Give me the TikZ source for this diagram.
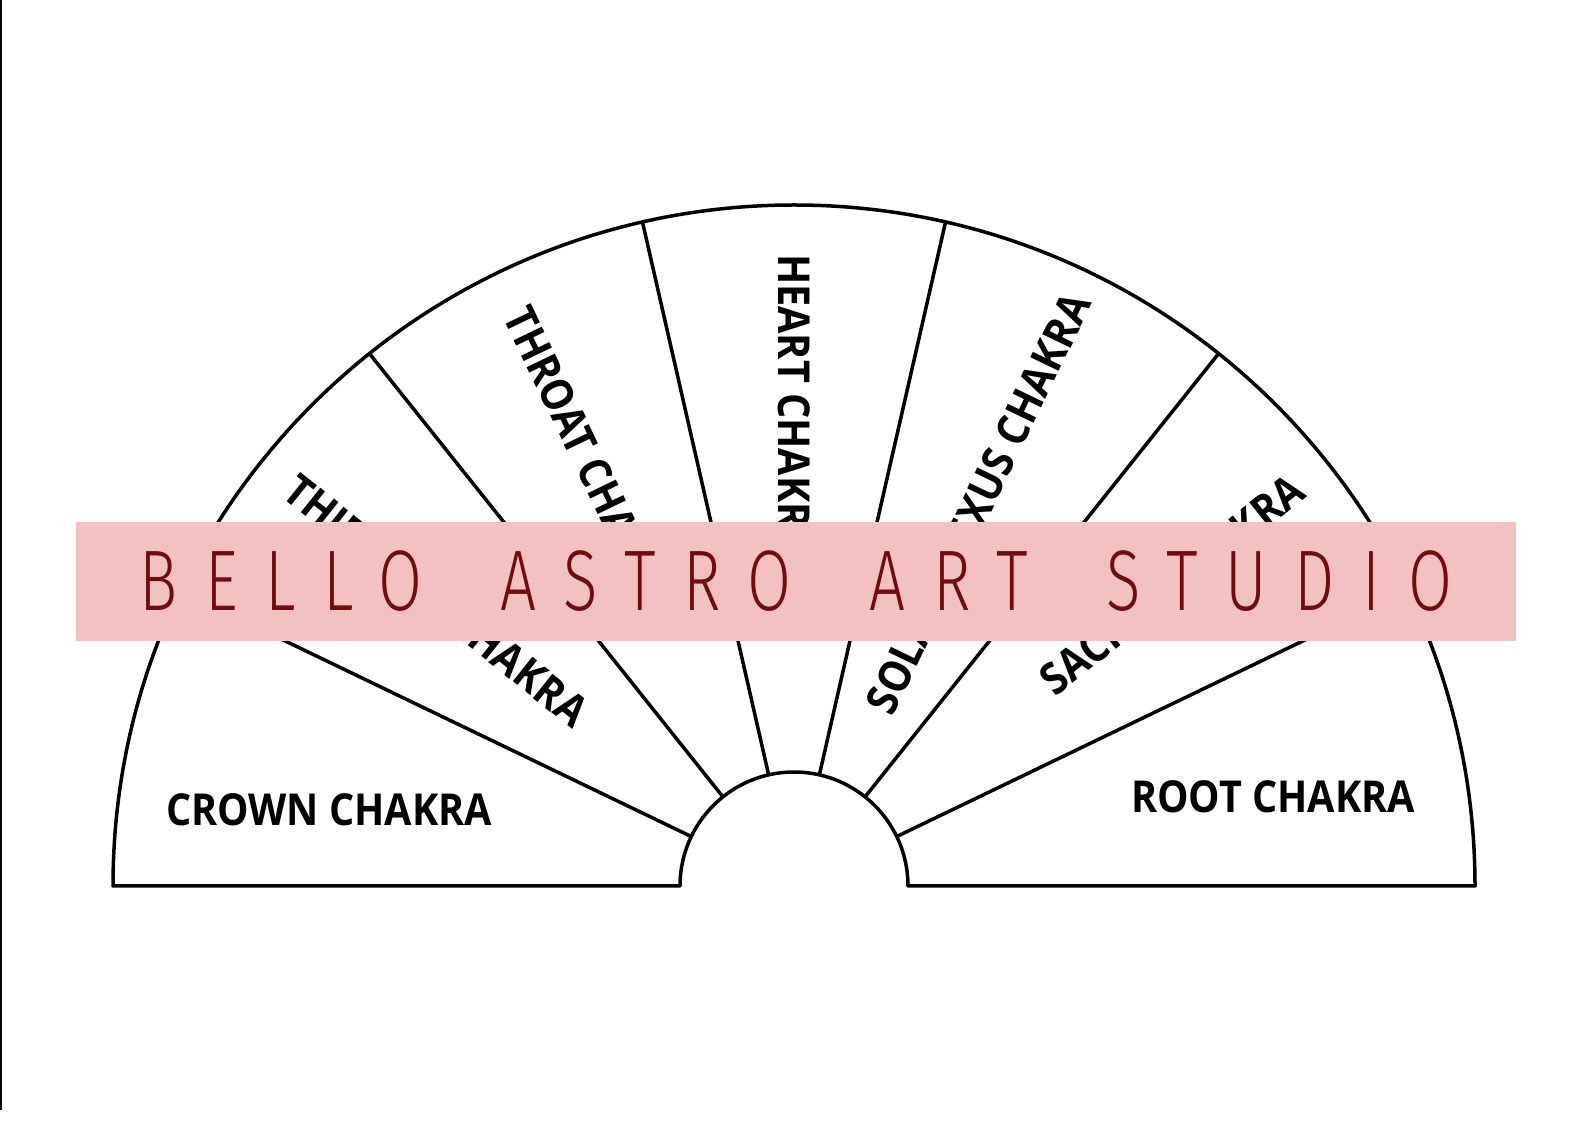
\documentclass[tikz,border=0pt]{standalone}
\usepackage{fontspec}
\setmainfont{Open Sans}[FakeStretch=0.9]
\newfontfamily\bannerfont{Fira Sans Light}[FakeStretch=0.74,LetterSpace=32]
\newcommand{\studiofont}{\fontsize{86}{86}\selectfont\bannerfont\spaceskip 78pt\relax}
\definecolor{bannerpink}{RGB}{244,193,194}
\definecolor{bannerred}{RGB}{112,12,16}
\tikzset{
  wheel/.style={line width=3.5pt,line join=round},
  chakra/.style={font=\fontsize{44}{44}\selectfont\bfseries,inner sep=0pt},
  banner/.style={fill=bannerpink,text=bannerred,inner sep=0pt,minimum width=1440,minimum height=119,font=\studiofont}
}
\begin{document}
\begin{tikzpicture}[x=1pt,y=1pt]
\useasboundingbox (0,0) rectangle (1588,1120);
\draw[line width=2.5pt] (1,1120) -- (1,10);
\begin{scope}[shift={(794,234)}]
  \def\outr{681}
  \def\innr{114}
  \draw[wheel] (-\outr,0) arc[start angle=180,end angle=0,radius=\outr pt] -- (\innr,0)
    arc[start angle=0,end angle=180,radius=\innr pt] -- cycle;
  \foreach \k in {1,...,6}
    \draw[wheel] ({180*\k/7}:\innr) -- ({180*\k/7}:\outr);
  \node[chakra] (crown) at (-465,76) {CROWN CHAKRA};
  \node[chakra,anchor=west,rotate=-38.57] (thirdeye) at (141.43:645) {THIRD EYE CHAKRA};
  \node[chakra,anchor=west,rotate=-64.29] (throat) at (115.71:640) {THROAT CHAKRA};
  \node[chakra,anchor=west,rotate=-90] (heart) at (90:632) {HEART CHAKRA};
  \node[chakra,anchor=east,rotate=64.29] (solar) at (64.29:655) {SOLAR PLEXUS CHAKRA};
  \node[chakra,anchor=east,rotate=38.57] (sacral) at (38.57:645) {SACRAL CHAKRA};
  \node[chakra] (root) at (479,89) {ROOT CHAKRA};
\end{scope}
\node[banner] (studio) at (796,538.5) {BELLO ASTRO ART STUDIO};
\end{tikzpicture}
\end{document}
